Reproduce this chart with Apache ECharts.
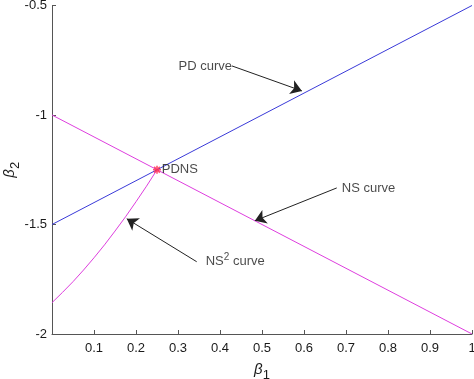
<!DOCTYPE html>
<html>
<head>
<meta charset="utf-8">
<script src="https://cdn.jsdelivr.net/npm/echarts@6/dist/echarts.min.js"></script>
<style>html,body{margin:0;padding:0;background:#fff;}#c{width:474px;height:379px;}</style>
</head>
<body>
<div id="c"></div>
<script>
// ---- data ----
const pdBeta1 = [0, 1];
const pdBeta2 = [-1.5, -0.5];
const nsBeta1 = [0, 1];
const nsBeta2 = [-1, -2];
const ns2Beta1 = [0, 0.025, 0.05, 0.075, 0.1, 0.125, 0.15, 0.175, 0.2, 0.225, 0.25];
const ns2Beta2 = [-1.857, -1.81, -1.761, -1.708, -1.652, -1.593, -1.53, -1.465, -1.396, -1.325, -1.25];
const pdnsPoint = [0.25, -1.25];
const xTicks = [0.1, 0.2, 0.3, 0.4, 0.5, 0.6, 0.7, 0.8, 0.9, 1];
const yTicks = [-2, -1.5, -1, -0.5];
// annotation arrows: [start, tip] in data coords
const pdArrow = [[0.4286, -0.776], [0.595, -0.89]];
const nsArrow = [[0.678, -1.333], [0.483, -1.483]];
const ns2Arrow = [[0.3445, -1.670], [0.178, -1.474]];

const zip = (a, b) => a.map((v, i) => [v, b[i]]);
const font = 'Liberation Sans, Arial, Helvetica, sans-serif';
const axisCol = '#555';
const txtCol = '#1a1a1a';

const chart = echarts.init(document.getElementById('c'), null, {renderer: 'canvas'});
chart.setOption({
  animation: false,
  backgroundColor: '#fff',
  grid: {left: 52, right: 2, top: 5.5, bottom: 45, containLabel: false, outerBoundsMode: 'none'},
  xAxis: {
    type: 'value', min: 0, max: 1, interval: 0.1,
    name: '{b|β}{s|1}', nameLocation: 'middle', nameGap: 23, nameMoveOverlap: false,
    nameTextStyle: {rich: {
      b: {fontFamily: font, fontStyle: 'italic', fontSize: 15, color: txtCol},
      s: {fontFamily: font, fontSize: 13, color: txtCol, padding: [12, 0, 0, 0]}
    }},
    axisLine: {show: true, onZero: false, lineStyle: {color: axisCol, width: 1}},
    axisTick: {show: true, inside: true, length: 4, lineStyle: {color: axisCol}},
    axisLabel: {
      fontFamily: font, fontSize: 13, color: txtCol, margin: 8,
      formatter: v => { const r = +(+v).toFixed(1); return xTicks.includes(r) ? String(r) : ''; }
    },
    splitLine: {show: false}
  },
  yAxis: {
    type: 'value', min: -2, max: -0.5, interval: 0.5,
    name: '{b|β}{s|2}', nameLocation: 'middle', nameGap: 30, nameRotate: 90, nameMoveOverlap: false,
    nameTextStyle: {rich: {
      b: {fontFamily: font, fontStyle: 'italic', fontSize: 15, color: txtCol},
      s: {fontFamily: font, fontSize: 13, color: txtCol, padding: [12, 0, 0, 0]}
    }},
    axisLine: {show: true, onZero: false, lineStyle: {color: axisCol, width: 1}},
    axisTick: {show: true, inside: true, length: 4, lineStyle: {color: axisCol}},
    axisLabel: {
      fontFamily: font, fontSize: 13, color: txtCol, margin: 5,
      formatter: v => { const r = +(+v).toFixed(1); return yTicks.includes(r) ? String(r) : ''; }
    },
    splitLine: {show: false}
  },
  series: [
    {type: 'line', name: 'PD curve', data: zip(pdBeta1, pdBeta2), showSymbol: false,
     lineStyle: {color: '#3a3ad8', width: 1}, z: 3},
    {type: 'line', name: 'NS curve', data: zip(nsBeta1, nsBeta2), showSymbol: false,
     lineStyle: {color: '#de3ede', width: 1}, z: 3},
    {type: 'line', name: 'NS2 curve', data: zip(ns2Beta1, ns2Beta2), showSymbol: false,
     lineStyle: {color: '#de3ede', width: 1}, z: 3},
    {type: 'scatter', name: 'PDNS', data: [pdnsPoint],
     symbol: 'path://M0,-5L0,5M-5,0L5,0M-3.6,-3.6L3.6,3.6M-3.6,3.6L3.6,-3.6',
     symbolSize: 8,
     itemStyle: {color: 'rgba(0,0,0,0)', borderColor: '#ff2a4a', borderWidth: 1.6},
     label: {show: true, position: 'right', distance: 0, formatter: 'PDNS',
             fontFamily: font, fontSize: 13, color: txtCol},
     z: 5},
    {type: 'lines', coordinateSystem: 'cartesian2d',
     symbol: ['none', 'arrow'], symbolSize: [0, 11],
     lineStyle: {color: '#222', width: 1, opacity: 1},
     data: [{coords: pdArrow}, {coords: nsArrow}, {coords: ns2Arrow}],
     z: 4},
    {type: 'scatter', name: 'labels', symbolSize: 0, silent: true,
     data: [
       {value: pdArrow[0], label: {position: 'left', distance: 0, formatter: 'PD curve'}},
       {value: nsArrow[0], label: {position: 'right', distance: 5, formatter: 'NS curve'}},
       {value: ns2Arrow[0], label: {position: 'right', distance: 9, formatter: 'NS{sup|2} curve'}}
     ],
     label: {show: true, fontFamily: font, fontSize: 13, color: txtCol,
             rich: {sup: {fontFamily: font, fontSize: 10, color: txtCol, padding: [0, 0, 8, 0]}}},
     z: 5}
  ]
});
</script>
</body>
</html>
